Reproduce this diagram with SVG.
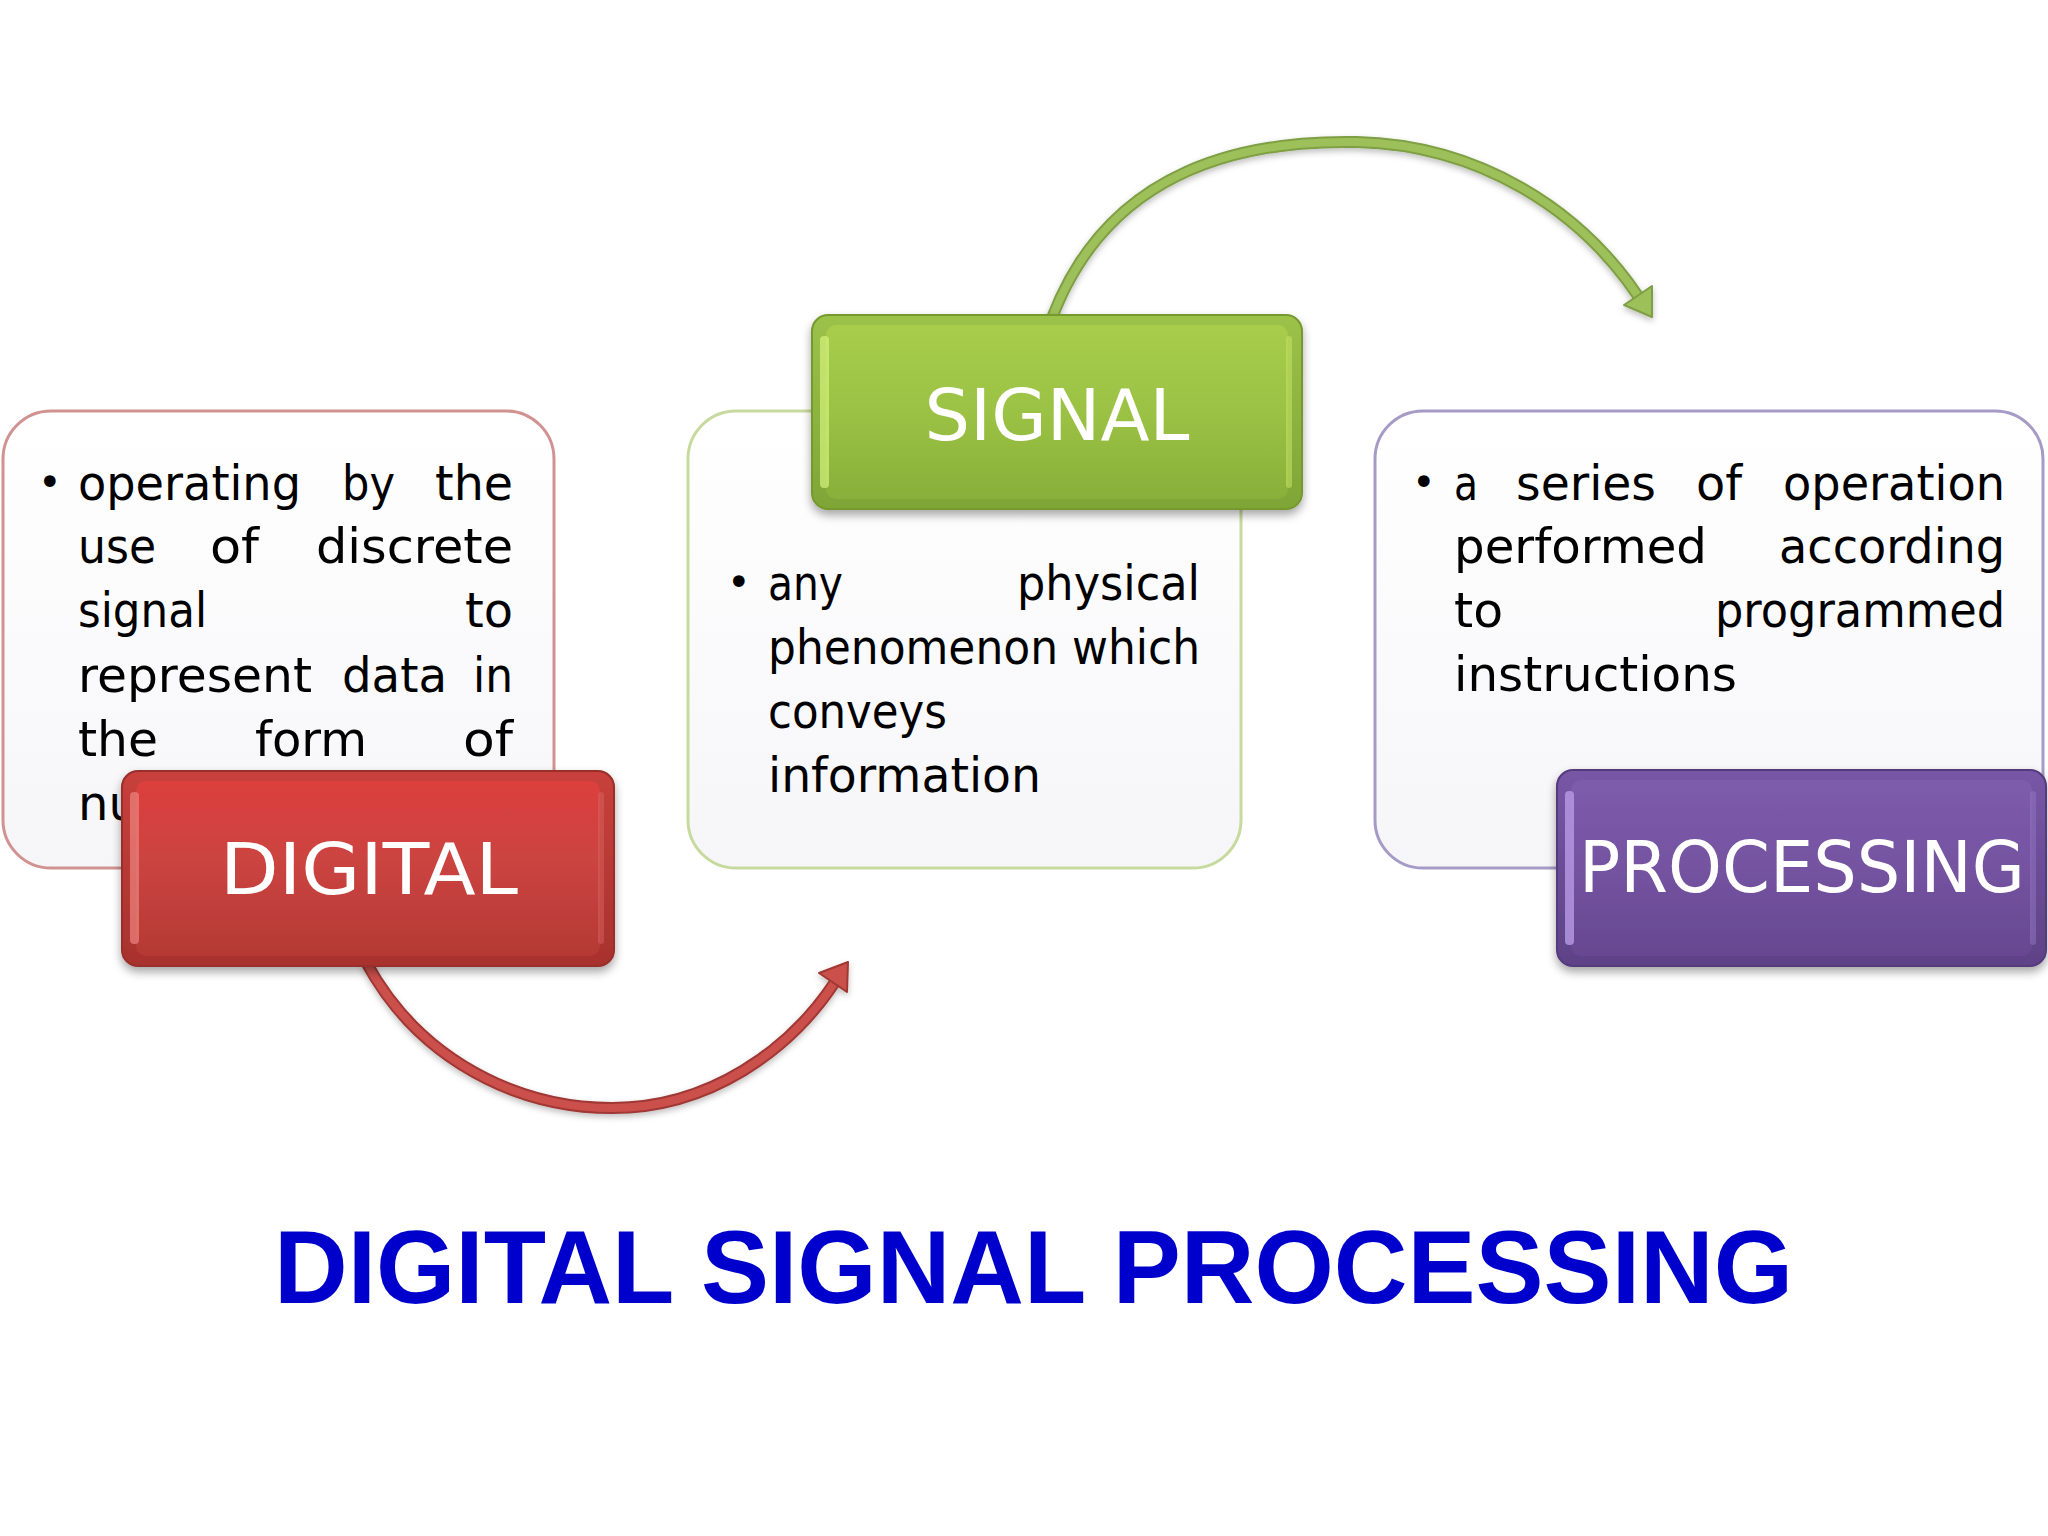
<svg xmlns="http://www.w3.org/2000/svg" width="2048" height="1536" viewBox="0 0 2048 1536">
<defs>
<style>
.body{font-family:"Comic Sans MS","DejaVu Sans",sans-serif;font-size:48px;fill:#000}
.bul{font-family:"DejaVu Sans",sans-serif;font-size:40px;fill:#000}
.lbl{font-family:"Comic Sans MS","DejaVu Sans",sans-serif;font-size:72px;fill:#fff;text-anchor:middle}
.card{stroke-width:3}
.title{font-family:"Liberation Sans",Arial,sans-serif;font-weight:bold;font-size:103px;fill:#0000CC}
</style>
<linearGradient id="cardFill" x1="0" y1="0" x2="0" y2="1">
<stop offset="0" stop-color="#FFFFFF"/><stop offset="1" stop-color="#F6F6F9"/>
</linearGradient>
<linearGradient id="redEdge" x1="0" y1="0" x2="0" y2="1">
<stop offset="0" stop-color="#C8403C"/><stop offset="1" stop-color="#A8322E"/>
</linearGradient>
<linearGradient id="redFace" x1="0" y1="0" x2="0" y2="1">
<stop offset="0" stop-color="#DC3F3D"/><stop offset="0.45" stop-color="#CB4441"/><stop offset="1" stop-color="#B53934"/>
</linearGradient>
<linearGradient id="grnEdge" x1="0" y1="0" x2="0" y2="1">
<stop offset="0" stop-color="#9DC24A"/><stop offset="1" stop-color="#7EA536"/>
</linearGradient>
<linearGradient id="grnFace" x1="0" y1="0" x2="0" y2="1">
<stop offset="0" stop-color="#A8CD4C"/><stop offset="0.5" stop-color="#9BC244"/><stop offset="1" stop-color="#88B03A"/>
</linearGradient>
<linearGradient id="purEdge" x1="0" y1="0" x2="0" y2="1">
<stop offset="0" stop-color="#7757A6"/><stop offset="1" stop-color="#5E4287"/>
</linearGradient>
<linearGradient id="purFace" x1="0" y1="0" x2="0" y2="1">
<stop offset="0" stop-color="#7E5CAC"/><stop offset="0.5" stop-color="#7453A1"/><stop offset="1" stop-color="#664790"/>
</linearGradient>
<filter id="shadow" x="-10%" y="-10%" width="120%" height="130%">
<feDropShadow dx="0" dy="5" stdDeviation="5" flood-color="#000" flood-opacity="0.35"/>
</filter>
<filter id="ashadow" x="-10%" y="-10%" width="120%" height="130%">
<feDropShadow dx="0" dy="3" stdDeviation="3" flood-color="#000" flood-opacity="0.25"/>
</filter>
</defs>

<rect width="2048" height="1536" fill="#FFFFFF"/>

<g id="connectors" filter="url(#ashadow)">
<g id="arrow-digital-signal">
<path d="M366,962 C420,1062 520,1108 612,1108 C710,1108 790,1050 835,982" fill="none" stroke="#A03734" stroke-width="12"/>
<path d="M366,962 C420,1062 520,1108 612,1108 C710,1108 790,1050 835,982" fill="none" stroke="#CB4F4B" stroke-width="8"/>
<polygon points="848,962 847,992 819,973" fill="#CB4F4B" stroke="#A03734" stroke-width="2" stroke-linejoin="round"/>
</g>
<g id="arrow-signal-processing">
<path d="M1052,318 C1110,165 1250,140 1357,142 C1480,145 1580,210 1638,296" fill="none" stroke="#7F9F44" stroke-width="12"/>
<path d="M1052,318 C1110,165 1250,140 1357,142 C1480,145 1580,210 1638,296" fill="none" stroke="#9DC05A" stroke-width="8"/>
<polygon points="1652,317 1652,286 1624,305" fill="#9DC05A" stroke="#7F9F44" stroke-width="2" stroke-linejoin="round"/>
</g>
</g>

<g id="node-digital">
<rect class="card" x="3" y="411" width="551" height="457" rx="48" fill="url(#cardFill)" stroke="#D09391"/>
<text class="bul" x="38" y="496">•</text>
<text class="body" y="500"><tspan x="78" textLength="223" lengthAdjust="spacingAndGlyphs">operating</tspan><tspan x="342" textLength="53" lengthAdjust="spacingAndGlyphs">by</tspan><tspan x="435" textLength="78" lengthAdjust="spacingAndGlyphs">the</tspan></text>
<text class="body" y="563"><tspan x="78" textLength="78" lengthAdjust="spacingAndGlyphs">use</tspan><tspan x="210" textLength="49" lengthAdjust="spacingAndGlyphs">of</tspan><tspan x="316" textLength="197" lengthAdjust="spacingAndGlyphs">discrete</tspan></text>
<text class="body" y="627"><tspan x="78" textLength="129" lengthAdjust="spacingAndGlyphs">signal</tspan><tspan x="465" textLength="48" lengthAdjust="spacingAndGlyphs">to</tspan></text>
<text class="body" y="692"><tspan x="78" textLength="234" lengthAdjust="spacingAndGlyphs">represent</tspan><tspan x="342" textLength="105" lengthAdjust="spacingAndGlyphs">data</tspan><tspan x="473" textLength="40" lengthAdjust="spacingAndGlyphs">in</tspan></text>
<text class="body" y="756"><tspan x="78" textLength="80" lengthAdjust="spacingAndGlyphs">the</tspan><tspan x="255" textLength="112" lengthAdjust="spacingAndGlyphs">form</tspan><tspan x="463" textLength="50" lengthAdjust="spacingAndGlyphs">of</tspan></text>
<text class="body" x="78" y="820">nu</text>
<g filter="url(#shadow)">
<rect x="122" y="771" width="492" height="195" rx="16" fill="url(#redEdge)" stroke="#9A2E2A" stroke-width="2"/>
<rect x="136" y="781" width="464" height="175" rx="10" fill="url(#redFace)"/>
<rect x="130" y="792" width="9" height="152" rx="4" fill="#EE8480" opacity="0.7"/>
<rect x="598" y="792" width="6" height="152" rx="3" fill="#D86460" opacity="0.5"/>
</g>
<text class="lbl" x="369" y="894" textLength="298" lengthAdjust="spacingAndGlyphs">DIGITAL</text>
</g>

<g id="node-signal">
<rect class="card" x="688" y="411" width="553" height="457" rx="48" fill="url(#cardFill)" stroke="#C7DA9E"/>
<text class="bul" x="727" y="596">•</text>
<text class="body" y="600"><tspan x="768" textLength="75" lengthAdjust="spacingAndGlyphs">any</tspan><tspan x="1017" textLength="183" lengthAdjust="spacingAndGlyphs">physical</tspan></text>
<text class="body" x="768" y="664" textLength="432" lengthAdjust="spacingAndGlyphs">phenomenon which</text>
<text class="body" x="768" y="728" textLength="179" lengthAdjust="spacingAndGlyphs">conveys</text>
<text class="body" x="768" y="792" textLength="273" lengthAdjust="spacingAndGlyphs">information</text>
<g filter="url(#shadow)">
<rect x="812" y="315" width="490" height="194" rx="16" fill="url(#grnEdge)" stroke="#76992F" stroke-width="2"/>
<rect x="826" y="325" width="462" height="174" rx="10" fill="url(#grnFace)"/>
<rect x="820" y="336" width="9" height="152" rx="4" fill="#D6F27E" opacity="0.7"/>
<rect x="1286" y="336" width="6" height="152" rx="3" fill="#C2E060" opacity="0.6"/>
</g>
<text class="lbl" x="1057" y="440" textLength="265" lengthAdjust="spacingAndGlyphs">SIGNAL</text>
</g>

<g id="node-processing">
<rect class="card" x="1375" y="411" width="668" height="457" rx="48" fill="url(#cardFill)" stroke="#A69BC6"/>
<text class="bul" x="1412" y="496">•</text>
<text class="body" y="500"><tspan x="1454" textLength="24" lengthAdjust="spacingAndGlyphs">a</tspan><tspan x="1516" textLength="140" lengthAdjust="spacingAndGlyphs">series</tspan><tspan x="1696" textLength="46" lengthAdjust="spacingAndGlyphs">of</tspan><tspan x="1783" textLength="222" lengthAdjust="spacingAndGlyphs">operation</tspan></text>
<text class="body" y="563"><tspan x="1454" textLength="253" lengthAdjust="spacingAndGlyphs">performed</tspan><tspan x="1779" textLength="226" lengthAdjust="spacingAndGlyphs">according</tspan></text>
<text class="body" y="627"><tspan x="1454" textLength="49" lengthAdjust="spacingAndGlyphs">to</tspan><tspan x="1715" textLength="290" lengthAdjust="spacingAndGlyphs">programmed</tspan></text>
<text class="body" x="1454" y="691" textLength="283" lengthAdjust="spacingAndGlyphs">instructions</text>
<g filter="url(#shadow)">
<rect x="1557" y="770" width="489" height="196" rx="16" fill="url(#purEdge)" stroke="#553B7C" stroke-width="2"/>
<rect x="1571" y="780" width="461" height="176" rx="10" fill="url(#purFace)"/>
<rect x="1565" y="791" width="9" height="154" rx="4" fill="#B99AE6" opacity="0.8"/>
<rect x="2030" y="791" width="6" height="154" rx="3" fill="#9476C4" opacity="0.5"/>
</g>
<text class="lbl" x="1802" y="892" textLength="446" lengthAdjust="spacingAndGlyphs">PROCESSING</text>
</g>

<g id="title">
<text class="title" x="274" y="1303" textLength="1519" lengthAdjust="spacingAndGlyphs">DIGITAL SIGNAL PROCESSING</text>
</g>
</svg>
